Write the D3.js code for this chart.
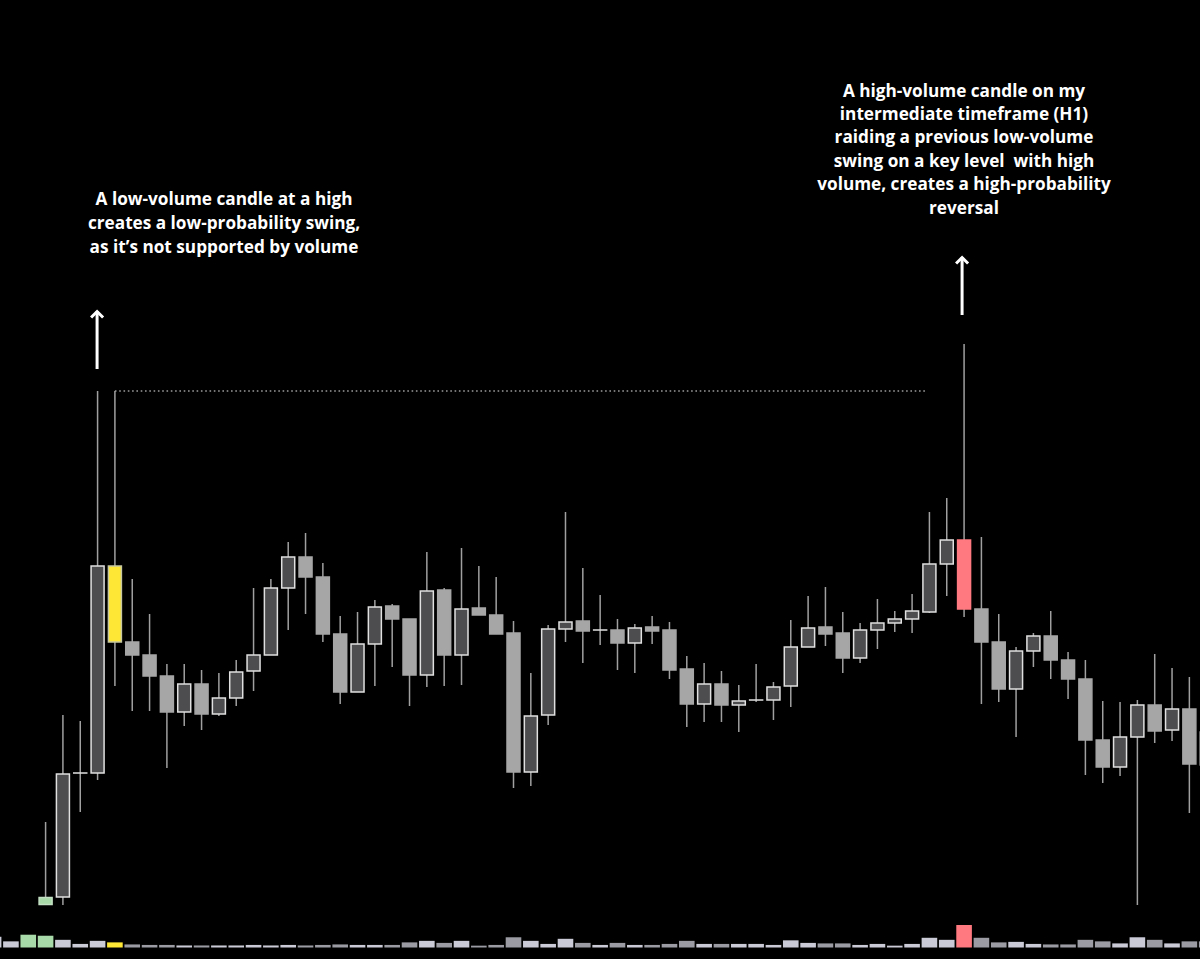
<!DOCTYPE html>
<html>
<head>
<meta charset="utf-8">
<script src="https://cdn.jsdelivr.net/npm/d3@7/dist/d3.min.js"></script>
<style>
html,body{margin:0;padding:0;background:#000;overflow:hidden}
svg{display:block}
text{font-family:"Open Sans",sans-serif;font-weight:700;fill:#fff;white-space:pre}
</style>
</head>
<body>
<svg id="chart" width="1200" height="959"></svg>
<script>
// Candle index 0..67, prices in chart units
const kinds = ["g","u","u","u","y","d","d","d","u","d","u","u","u","u","u","d","d","d","u","u","d","d","u","d","u","d","d","d","u","u","u","d","u","d","u","d","d","d","u","d","u","u","u","u","u","d","d","u","u","u","u","u","u","r","d","d","u","u","d","d","d","d","u","u","d","u","d","d"];
const opens  = [61.5,62,186,186,393,317,304,283,247,275,245,261,288,304,371,402,382,325,267,315,353,340,284,369,304,351,344,326,187,244,330,338,329,329,316,332,329,290,255,275,254,259,259,273,312,332,326,301,329,336,340,347,395,419,350,317,270,308,323,299,280,219,192,222,254,229,250,227];
const closes = [54.5,185,186,393,317,304,283,247,275,245,261,287,304,371,402,382,325,267,315,352,340,284,368,304,350,344,325,187,243,330,337,328,329,316,331,328,289,255,275,254,258,259,272,312,331,325,301,329,336,340,348,395,419,350,317,270,308,323,299,280,219,192,222,254,228,250,195,194];
const highs  = [137,244,238,568,568,380,345,295,295,289,286,299,371,380,417,426,396,343,347,359,355,340,407,371,411,393,382,338,286,334,447,391,364,340,335,343,337,303,296,288,274,295,277,339,363,372,347,336,360,348,365,447,461,615,422,345,312,326,348,307,299,258,257,259,305,291,282,259];
const lows   = [54,54,147,179,273,248,248,191,233,229,243,253,268,304,329,345,317,255,267,273,292,253,272,273,274,344,325,171,173,234,317,296,314,289,286,315,280,232,237,237,227,257,239,252,312,313,286,296,310,327,326,346,363,342,255,257,222,292,280,260,184,176,183,54,216,218,146,169];
// Volume index -3..67
const volumeStart = -3;
const volumes = [10.5,6,12.5,11.5,7.5,3.5,6.5,5,3,2.5,2.5,2,2,2,2,2.5,2,2.5,2,2.5,3,2.5,2.5,2.5,5,6.5,4.5,6.5,1.8,2.5,10,6.5,3.5,8.5,4.5,2.5,4.5,2.5,2.5,3.5,6.5,3.5,3.5,3.5,3.5,2.5,7,4.5,4,4,2.5,3.5,1.8,3.5,9.5,7.5,22,9.5,5,5.5,3.5,3,3,7.5,6,4,10,7.5,4,6,6];
const volumeKinds = ["u","u","g"].concat(kinds);
const levelPrice = 568;
const levelFrom = 4, levelTo = 50.8;
const note1 = ["A low-volume candle at a high","creates a low-probability swing,","as it’s not supported by volume"];
const note2 = ["A high-volume candle on my","intermediate timeframe (H1)","raiding a previous low-volume","swing on a key level  with high","volume, creates a high-probability","reversal"];

const svg = d3.select("#chart");
svg.append("rect").attr("width",1200).attr("height",959).attr("fill","#000");

const x = d3.scaleLinear().domain([-3,67]).range([-6.4,1206.7]);
const y = d3.scaleLinear().domain([0,959]).range([959,0]);
const vy = d3.scaleLinear().domain([0,22]).range([947.5,925]);

const BODY = 13, WICK = 1.5;
const fills = {u:"#4d4d4f",d:"#a6a6a6",y:"#ffe835",r:"#ff7a80",g:"#a8d9a8"};
const strokes = {u:"#e0e0e0",d:"#a6a6a6",y:"#c8c8a0",r:"#ff7a80",g:"#c4e0c4"};
const volFills = {u:"#c9cad6",d:"#9a9ba3",y:"#ffe835",r:"#ff7a80",g:"#a8d9a8"};

const idx = d3.range(kinds.length);

// dotted level
svg.append("line")
  .attr("x1",x(levelFrom)).attr("x2",x(levelTo))
  .attr("y1",y(levelPrice)).attr("y2",y(levelPrice))
  .attr("stroke","#9a9a9a").attr("stroke-width",1.3).attr("stroke-dasharray","1.6 2.7");

// wicks
svg.append("g").selectAll("line").data(idx).join("line")
  .attr("x1",i=>x(i)).attr("x2",i=>x(i))
  .attr("y1",i=>y(highs[i])).attr("y2",i=>y(lows[i]))
  .attr("stroke","#a0a0a0").attr("stroke-width",WICK);

// bodies (a doji gets a sliver of height so that its bar is still drawn)
svg.append("g").selectAll("rect").data(idx).join("rect")
  .attr("x",i=>x(i)-BODY/2)
  .attr("width",BODY)
  .attr("y",i=>y(Math.max(opens[i],closes[i])))
  .attr("height",i=>Math.max(0.01,Math.abs(opens[i]-closes[i])))
  .attr("fill",i=>fills[kinds[i]])
  .attr("stroke",i=>strokes[kinds[i]])
  .attr("stroke-width",1.5);

// volume
const vw = 15.6;
svg.append("g").selectAll("rect").data(volumes).join("rect")
  .attr("x",(d,i)=>x(i+volumeStart)-vw/2)
  .attr("width",vw)
  .attr("y",d=>vy(d))
  .attr("height",d=>vy(0)-vy(d))
  .attr("fill",(d,i)=>volFills[volumeKinds[i]]);

// notes
function note(lines,cx,firstBaseline,step){
  svg.append("g").selectAll("text").data(lines).join("text")
    .attr("x",cx).attr("y",(d,i)=>firstBaseline+i*step)
    .attr("text-anchor","middle").attr("font-size",17.2).text(d=>d);
}
note(note1,224,204.6,24.2);
note(note2,964,96.6,23.4);

// arrows
function arrow(cx,top,bottom){
  const g = svg.append("g").attr("stroke","#fff").attr("fill","none").attr("stroke-width",3);
  g.append("line").attr("x1",cx).attr("x2",cx).attr("y1",top+1).attr("y2",bottom);
  g.append("path").attr("d",d3.line()([[cx-6,top+7.5],[cx,top+1.5],[cx+6,top+7.5]]));
}
arrow(x(3)-0.5,310,369);
arrow(x(53)-2,256,315);
</script>
</body>
</html>
